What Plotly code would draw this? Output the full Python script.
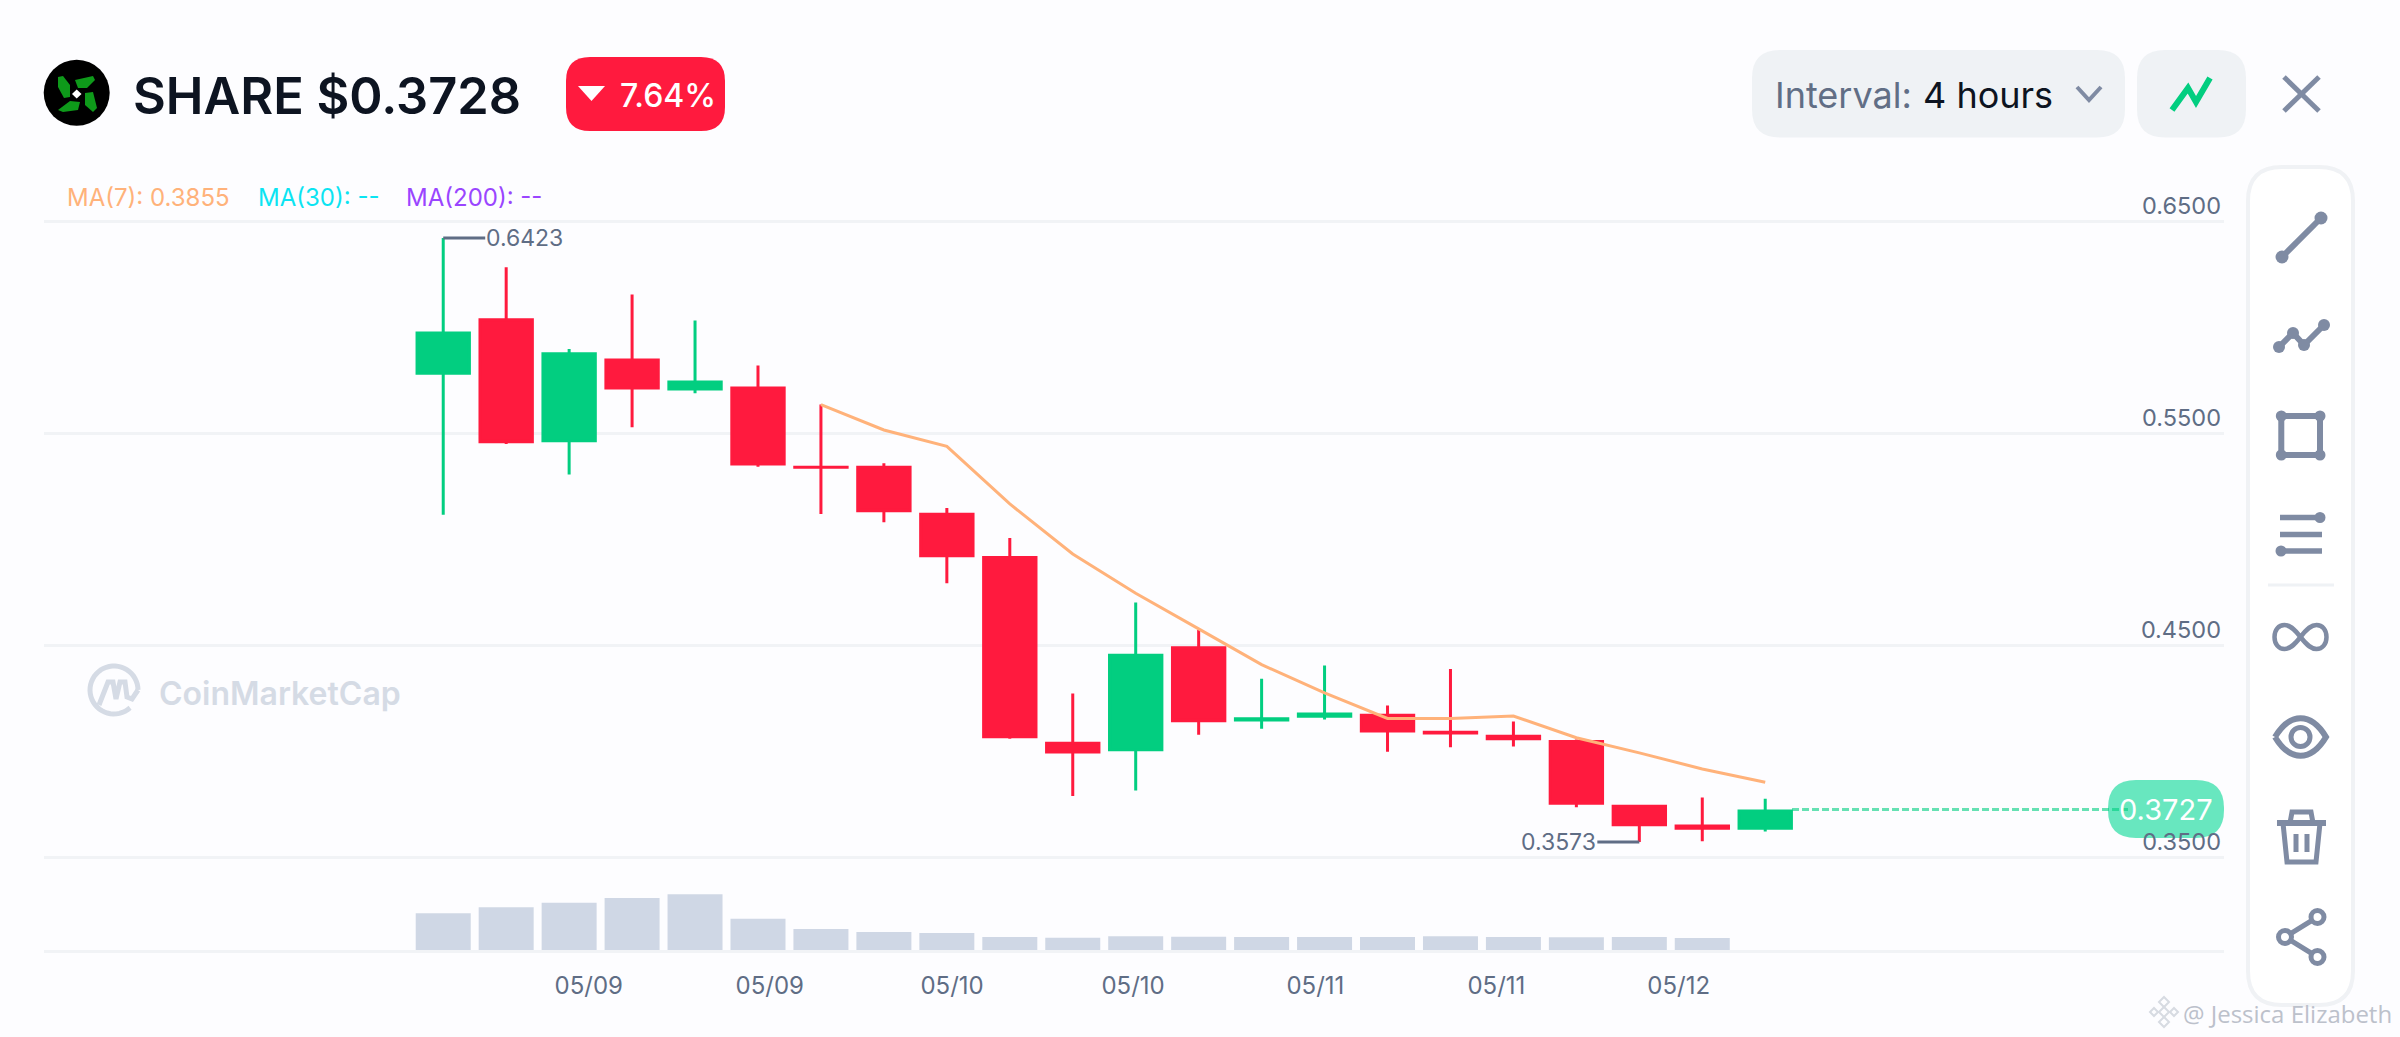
import numpy as np
import plotly.graph_objects as go

# ---------- data ----------
DATES = ["2022-05-08 20:00", "2022-05-09 00:00", "2022-05-09 04:00", "2022-05-09 08:00",
         "2022-05-09 12:00", "2022-05-09 16:00", "2022-05-09 20:00", "2022-05-10 00:00",
         "2022-05-10 04:00", "2022-05-10 08:00", "2022-05-10 12:00", "2022-05-10 16:00",
         "2022-05-10 20:00", "2022-05-11 00:00", "2022-05-11 04:00", "2022-05-11 08:00",
         "2022-05-11 12:00", "2022-05-11 16:00", "2022-05-11 20:00", "2022-05-12 00:00",
         "2022-05-12 04:00", "2022-05-12 08:00"]
OPEN = [0.5777, 0.6044, 0.5459, 0.5854, 0.5703, 0.5722, 0.5348, 0.5348, 0.5126, 0.4923, 0.4046,
        0.4001, 0.4497, 0.4142, 0.4160, 0.4178, 0.4098, 0.4079, 0.4055, 0.3749, 0.3656, 0.3631]
HIGH = [0.6423, 0.6284, 0.5899, 0.6156, 0.6033, 0.5821, 0.5637, 0.5360, 0.5149, 0.5008, 0.4274,
        0.4703, 0.4574, 0.4344, 0.4406, 0.4217, 0.4390, 0.4142, 0.4057, 0.3749, 0.3783, 0.3778]
LOW = [0.5117, 0.5451, 0.5307, 0.5530, 0.5690, 0.5344, 0.5121, 0.5082, 0.4794, 0.4060, 0.3791,
       0.3816, 0.4079, 0.4108, 0.4151, 0.3999, 0.4020, 0.4024, 0.3737, 0.3573, 0.3577, 0.3623]
CLOSE = [0.5981, 0.5454, 0.5884, 0.5708, 0.5750, 0.5349, 0.5334, 0.5129, 0.4917, 0.4063, 0.3991,
         0.4461, 0.4138, 0.4162, 0.4184, 0.4090, 0.4080, 0.4053, 0.3749, 0.3648, 0.3631, 0.3727]
MA7_DATES = DATES[6:]
MA7 = [0.5637, 0.5517, 0.5440, 0.5168, 0.4932, 0.4747, 0.4579, 0.4410,
       0.4277, 0.4156, 0.4156, 0.4168, 0.4065, 0.3994, 0.3918, 0.3855]
VOLUME = [110, 128, 142, 156, 167, 94, 63, 54, 51, 39, 37, 41, 40, 39, 39, 39, 41, 39, 38, 39, 36]
VOLUME_DATES = DATES[:21]
PRICE_TICKS = [0.35, 0.45, 0.55, 0.65]
DATE_TICKS = ["2022-05-09 05:15", "2022-05-09 16:45", "2022-05-10 04:20", "2022-05-10 15:50",
              "2022-05-11 03:25", "2022-05-11 14:55", "2022-05-12 02:30"]
LAST_PRICE = 0.3727

# ---------- page geometry ----------
W, H = 2400, 1037
L, R, T, B = 44, 176, 100, 87
PW, PH = W - L - R, H - T - B
def X(px): return (px - L) / PW
def Y(py): return (H - B - py) / PH

GREEN, RED = "#02CE80", "#FF1A3E"
GREY_TXT, ICON = "#5F6D85", "#7F8BA3"
GRID, BG = "#F1F3F6", "#FDFDFF"
FONT = "Inter"

shapes, notes = [], []
def pth(points, close=False):
    s = "M " + " L ".join(f"{X(x):.5f} {Y(y):.5f}" for x, y in points)
    return s + (" Z" if close else "")
def poly(points, fill=None, color=None, width=0, close=True, layer="above"):
    shapes.append(dict(type="path", xref="paper", yref="paper", path=pth(points, close), layer=layer,
                       fillcolor=fill if fill else "rgba(0,0,0,0)",
                       line=dict(color=color if color else "rgba(0,0,0,0)", width=width)))
def line(points, color=ICON, width=5.5, layer="above"):
    poly(points, None, color, width, close=False, layer=layer)
def circ(cx, cy, r, fill=ICON, color=None, width=0, layer="above"):
    shapes.append(dict(type="circle", xref="paper", yref="paper", x0=X(cx - r), x1=X(cx + r),
                       y0=Y(cy + r), y1=Y(cy - r), fillcolor=fill, layer=layer,
                       line=dict(color=color if color else "rgba(0,0,0,0)", width=width)))
def rrect(x0, y0, x1, y1, r, fill, color=None, width=0, layer="above"):
    p = (f"M {X(x0+r)} {Y(y0)} L {X(x1-r)} {Y(y0)} Q {X(x1)} {Y(y0)} {X(x1)} {Y(y0+r)} "
         f"L {X(x1)} {Y(y1-r)} Q {X(x1)} {Y(y1)} {X(x1-r)} {Y(y1)} L {X(x0+r)} {Y(y1)} "
         f"Q {X(x0)} {Y(y1)} {X(x0)} {Y(y1-r)} L {X(x0)} {Y(y0+r)} Q {X(x0)} {Y(y0)} {X(x0+r)} {Y(y0)} Z")
    shapes.append(dict(type="path", xref="paper", yref="paper", path=p, fillcolor=fill, layer=layer,
                       line=dict(color=color if color else "rgba(0,0,0,0)", width=width)))
def curve(cmds, color=ICON, width=5.5):
    """cmds: start point followed by cubic triples, in page pixels."""
    p = f"M {X(cmds[0][0])} {Y(cmds[0][1])}"
    for a, b, c in cmds[1:]:
        p += f" C {X(a[0])} {Y(a[1])} {X(b[0])} {Y(b[1])} {X(c[0])} {Y(c[1])}"
    shapes.append(dict(type="path", xref="paper", yref="paper", path=p, layer="above",
                       fillcolor="rgba(0,0,0,0)", line=dict(color=color, width=width)))
def text(x, y, s, size, color, anchor="left", weight=400, family=FONT):
    notes.append(dict(xref="paper", yref="paper", x=X(x), y=Y(y), text=s, showarrow=False, xanchor=anchor,
                      yanchor="middle", font=dict(family=family, size=size, color=color, weight=weight),
                      borderpad=0, borderwidth=0))

# ---------- header ----------
circ(76.7, 92.8, 33, fill="#000000")
PETAL = "#0E9A1A"
for p in ([(58, 77), (63, 76), (70, 85), (70, 97), (64, 98), (58, 87)],
          [(75, 80), (93, 76), (95, 80), (87, 88), (78, 88)],
          [(85, 93), (93, 92), (97, 108), (93, 112), (85, 105)],
          [(58, 110), (70, 101), (80, 102), (78, 110), (63, 112)]):
    poly(p, fill=PETAL)
poly([(76.7, 89.5), (81.5, 94), (76.7, 98.5), (72, 94)], fill="#FFFFFF")
text(133, 95, "SHARE $0.3728", 50.5, "#0D1421", weight=600)
rrect(566, 57, 725, 131, 24, RED)
poly([(578, 86), (605, 86), (591.5, 101)], fill="#FFFFFF")
text(620, 95, "7.64%", 32, "#FFFFFF", weight=500)

rrect(1752, 50, 2125, 137.5, 28, "#EFF2F5")
text(1775, 95, "Interval:", 36, "#616E85")
text(1923, 95, "4 hours", 36, "#0D1421")
line([(2077, 87), (2089, 100), (2101, 87)], width=4)
rrect(2137, 50, 2246, 137.5, 28, "#EFF2F5")
line([(2172, 110), (2188, 88), (2196, 102), (2210, 78)], color=GREEN, width=6)
line([(2284, 77), (2319, 111)], width=5)
line([(2319, 77), (2284, 111)], width=5)

# ---------- MA legend ----------
text(67, 197, "MA(7): 0.3855", 24, "#FFB27A")
text(258, 197, "MA(30): --", 24, "#0BE4F2")
text(406, 197, "MA(200): --", 24, "#9A45FF")

# ---------- CoinMarketCap mark ----------
WM = "#D5DBE5"
line([(114 + 24 * np.cos(a), 690 - 24 * np.sin(a)) for a in np.radians(np.linspace(0, 312, 44))],
     color=WM, width=5, layer="below")
line([(99, 705), (108, 682), (113, 682), (116, 699), (120, 682), (125, 682), (127, 697), (132, 699), (138, 690)],
     color=WM, width=5, layer="below")
text(159, 693, "CoinMarketCap", 32, WM, weight=600)

# ---------- toolbar ----------
rrect(2248, 167, 2353, 1005, 34, "#FFFFFF", "#F0F2F5", 4)
line([(2282, 257), (2321, 218)], width=6)
circ(2282, 257, 6.5); circ(2321, 218, 6.5)
pts = [(2279, 347), (2293, 333), (2304, 345), (2324, 325)]
line(pts, width=6)
for a, b in pts: circ(a, b, 6)
sq = [(2281.3, 416), (2320, 416), (2320, 455), (2281.3, 455)]
poly(sq, None, ICON, 6)
for a, b in sq: circ(a, b, 5.5)
line([(2280, 517.5), (2320, 517.5)], width=5.5); circ(2320, 517.5, 5.5)
line([(2280, 534.5), (2322, 534.5)], width=5.5)
line([(2281, 551), (2322, 551)], width=5.5); circ(2281, 551, 5.5)
line([(2268, 585), (2334, 585)], color="#EFF2F5", width=3)
cx, cy = 2300.5, 637
curve([(cx, cy),
       ((cx + 7, cy - 9), (cx + 11, cy - 12), (cx + 16, cy - 12)),
       ((cx + 22, cy - 12), (cx + 26, cy - 7), (cx + 26, cy)),
       ((cx + 26, cy + 7), (cx + 22, cy + 12), (cx + 16, cy + 12)),
       ((cx + 11, cy + 12), (cx + 7, cy + 9), (cx, cy)),
       ((cx - 7, cy - 9), (cx - 11, cy - 12), (cx - 16, cy - 12)),
       ((cx - 22, cy - 12), (cx - 26, cy - 7), (cx - 26, cy)),
       ((cx - 26, cy + 7), (cx - 22, cy + 12), (cx - 16, cy + 12)),
       ((cx - 11, cy + 12), (cx - 7, cy + 9), (cx, cy))], width=4.5)
curve([(2275, 737),
       ((2290, 712), (2311, 712), (2326, 737)),
       ((2311, 762), (2290, 762), (2275, 737))], width=6)
circ(2300.5, 737, 9.5, fill="#FFFFFF", color=ICON, width=5)
line([(2277, 823), (2326, 823)], width=6)
line([(2290, 823), (2292, 812), (2311, 812), (2313, 823)], width=5)
poly([(2283, 823), (2287, 862), (2316, 862), (2320, 823)], None, ICON, 5)
line([(2296, 834), (2296, 852)], width=5)
line([(2307, 834), (2307, 852)], width=5)
line([(2285, 937), (2317.5, 917)], width=5)
line([(2285, 937), (2317.5, 957)], width=5)
for a, b in [(2285, 937), (2317.5, 917), (2317.5, 957)]:
    circ(a, b, 6.5, fill="#FFFFFF", color=ICON, width=5)

# ---------- last-price marker ----------
rrect(2108, 780, 2224, 838, 28, "#68E7BF", layer="below")
shapes.append(dict(type="line", xref="paper", yref="y", x0=X(1792), x1=X(2128), y0=LAST_PRICE, y1=LAST_PRICE,
                   line=dict(color="rgba(2,206,128,0.6)", width=3, dash="7px,3px"), layer="above"))
text(2166, 809, f"{LAST_PRICE:.4f}", 29, "#FFFFFF")
notes[-1]["xanchor"] = "center"

# ---------- Binance-style watermark ----------
MARK = "#D7DBE2"
for mx, my, r in [(2164, 1002, 5), (2164, 1022, 5), (2154, 1012, 4), (2174, 1012, 4), (2164, 1012, 5)]:
    poly([(mx, my - r), (mx + r, my), (mx, my + r), (mx - r, my)], None, MARK, 2)
text(2183, 1013, "@ Jessica Elizabeth", 24, "#BCC1CB", family="Open Sans")

# ---------- extreme labels ----------
i_hi, i_lo = HIGH.index(max(HIGH)), LOW.index(min(LOW))
for i, v, ax, anc in [(i_hi, HIGH[i_hi], 42, "left"), (i_lo, LOW[i_lo], -42, "right")]:
    notes.append(dict(x=DATES[i], y=v, xref="x", yref="y", text=f"{v:.4f}", showarrow=True, arrowhead=0,
                      arrowwidth=3, arrowcolor=GREY_TXT, ax=ax, ay=0, xanchor=anc, yanchor="middle",
                      borderpad=0, font=dict(family=FONT, size=23, color=GREY_TXT)))

# The 3 px outline of a candle body adds 1.5 px on each side: pull the drawn
# body edges in by that much so the visible edges sit on the read prices.
TRIM = 1.5 / 2120
def trimmed(o, c):
    mid = (o + c) / 2
    half = max(abs(o - c) / 2 - TRIM, 0.00002)
    return (mid + half, mid - half) if o > c else (mid - half, mid + half)
draw_open, draw_close = zip(*(trimmed(o, c) for o, c in zip(OPEN, CLOSE)))

# ---------- traces ----------
fig = go.Figure()
fig.add_trace(go.Bar(x=VOLUME_DATES, y=VOLUME, yaxis="y2", width=12580000,
                     marker=dict(color="#CFD7E5", line=dict(width=0)), hoverinfo="skip"))
fig.add_trace(go.Candlestick(x=DATES, open=list(draw_open), high=HIGH, low=LOW, close=list(draw_close),
                             increasing=dict(line=dict(color=GREEN, width=3), fillcolor=GREEN),
                             decreasing=dict(line=dict(color=RED, width=3), fillcolor=RED)))
fig.add_trace(go.Scatter(x=MA7_DATES, y=MA7, mode="lines", line=dict(color="#FFB27A", width=3), hoverinfo="skip"))

fig.update_layout(
    width=W, height=H, autosize=False, paper_bgcolor=BG, plot_bgcolor=BG, showlegend=False,
    margin=dict(l=L, r=R, t=T, b=B, pad=0), boxgap=0.168, boxgroupgap=0, shapes=shapes, annotations=notes,
    font=dict(family=FONT, size=23, color=GREY_TXT),
    xaxis=dict(type="date", range=["2022-05-07 18:38", "2022-05-13 13:09"], rangeslider=dict(visible=False),
               tickmode="array", tickvals=DATE_TICKS, tickformat="%m/%d", showgrid=False, zeroline=False,
               showline=True, linecolor=GRID, linewidth=3, ticks="", ticklabelstandoff=12,
               tickfont=dict(family=FONT, size=24, color=GREY_TXT)),
    yaxis=dict(range=[0.30640, 0.70735], side="right", tickmode="array", tickvals=PRICE_TICKS, tickformat=".4f",
               ticklabelposition="inside", ticklabelshift=-16, showgrid=True, gridcolor=GRID, gridwidth=3,
               zeroline=False, showline=False, ticks="", tickfont=dict(family=FONT, size=23.5, color=GREY_TXT)),
    yaxis2=dict(overlaying="y", range=[0, 2550], visible=False, showgrid=False, zeroline=False),
)
fig.write_html("out.html", config=dict(displayModeBar=False),
               post_script="document.body.style.margin='0';document.body.style.background='#FDFDFF';")
